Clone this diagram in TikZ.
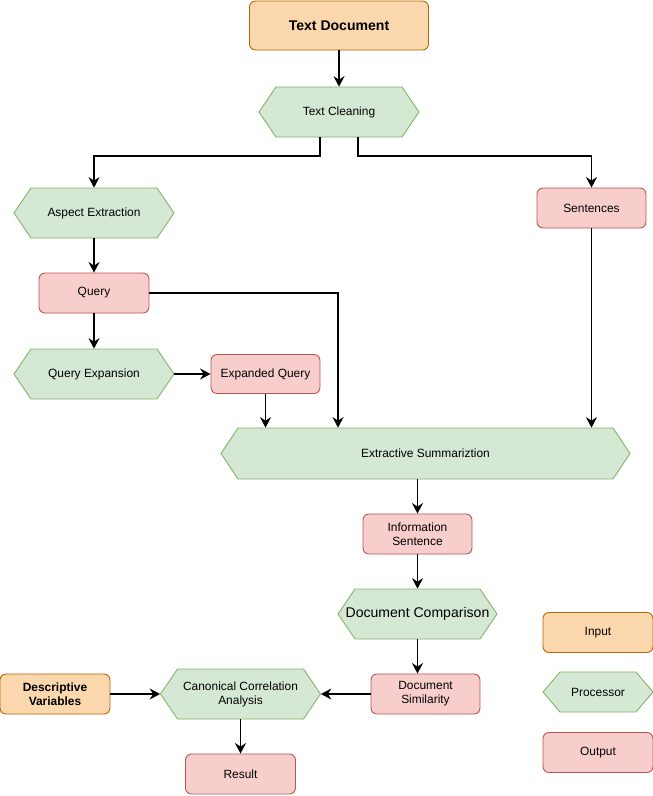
\documentclass[tikz,border=0pt]{standalone}
\usepackage{fontspec}
\setmainfont{Liberation Sans}
\usetikzlibrary{arrows.meta}
\definecolor{infill}{HTML}{FAD7AC}
\definecolor{inline}{HTML}{B46504}
\definecolor{procfill}{HTML}{D5E8D4}
\definecolor{procline}{HTML}{82B366}
\definecolor{outfill}{HTML}{F8CECC}
\definecolor{outline}{HTML}{B85450}
\tikzset{>={Stealth[length=2.1mm,width=2.2mm,inset=0.7mm]}}
\tikzset{
  small/.style={font=\fontsize{6.8}{8}\selectfont},
  big/.style={font=\fontsize{8}{9.5}\selectfont},
  inbox/.style={draw=inline,fill=infill,rounded corners=1.2mm,line width=0.5pt,
    minimum width=2.2cm,minimum height=0.8cm,align=center,small},
  outbox/.style={draw=outline,fill=outfill,rounded corners=1.2mm,line width=0.5pt,
    minimum width=2.2cm,minimum height=0.8cm,align=center,small},
  proc/.style={draw=procline,fill=procfill,line width=0.5pt},
  proctext/.style={inner sep=0pt,align=center,small},
  link/.style={->,line width=1pt},
}
% hexagon: name, x, y, width, height, text
\newcommand{\proc}[6]{%
  \draw[proc] (#2-#4/2,#3) -- (#2-#4/2+17,#3-#5/2) -- (#2+#4/2-17,#3-#5/2)
    -- (#2+#4/2,#3) -- (#2+#4/2-17,#3+#5/2) -- (#2-#4/2+17,#3+#5/2) -- cycle;
  \node[proctext,minimum width=#4*0.02cm,minimum height=#5*0.02cm] (#1) at (#2,#3) {#6};}

\begin{document}
\begin{tikzpicture}[x=0.02cm,y=-0.02cm]
  \useasboundingbox (0,0) rectangle (653,796);

  \node[inbox,minimum width=3.58cm,minimum height=0.98cm,font=\bfseries\fontsize{8}{9.5}\selectfont] (doc) at (339,25.5) {Text Document};
  \proc{clean}{339}{112}{160}{50}{Text Cleaning}
  \proc{aspect}{94}{213}{160}{50}{Aspect Extraction}
  \node[outbox,minimum width=2.18cm] (sent) at (591.5,208) {Sentences};
  \node[outbox] (query) at (94,293) {Query};
  \proc{qexp}{94}{374}{160}{50}{Query Expansion}
  \node[outbox,minimum width=2.18cm,minimum height=0.78cm] (eq) at (265.5,374) {Expanded Query};
  \proc{summ}{425.5}{453.5}{409}{51}{Extractive Summariztion}
  \node[outbox,minimum width=2.18cm] (info) at (417.5,534) {Information\\Sentence};
  \proc{comp}{417.5}{614}{159}{50}{\fontsize{8}{9.5}\selectfont Document Comparison}
  \node[outbox,minimum width=2.18cm] (sim) at (425.5,694) {Document\\Similarity};
  \proc{cca}{240.5}{694}{160}{50}{Canonical Correlation\\Analysis}
  \node[inbox,font=\bfseries\fontsize{6.8}{8}\selectfont] (desc) at (55,694) {Descriptive\\Variables};
  \node[outbox] (result) at (240.5,774) {Result};

  % legend
  \node[inbox] (lin) at (598,632.5) {Input};
  \proc{lproc}{598}{692}{110}{40}{Processor}
  \node[outbox] (lout) at (598,752.5) {Output};

  \draw[link] (doc) -- (clean);
  \draw[link] ([xshift=-0.38cm]clean.south) -- ++(0,19) -| (aspect.north);
  \draw[link] ([xshift=0.38cm]clean.south) -- ++(0,19) -| (sent.north);
  \draw[link] (aspect) -- (query);
  \draw[link] (query) -- (qexp);
  \draw[link] (qexp.east) -- (eq.west);
  \draw[link] (query.east) -| ([xshift=-1.75cm]summ.north);
  \draw[link] (eq) -- (eq |- summ.north);
  \draw[link] (sent) -- (sent |- summ.north);
  \draw[link] (info |- summ.south) -- (info.north);
  \draw[link] (info) -- (comp);
  \draw[link] (comp.south) -- (comp.south |- sim.north);
  \draw[link] (sim.west) -- (cca.east);
  \draw[link] (desc.east) -- (cca.west);
  \draw[link] (cca) -- (result);
\end{tikzpicture}
\end{document}
